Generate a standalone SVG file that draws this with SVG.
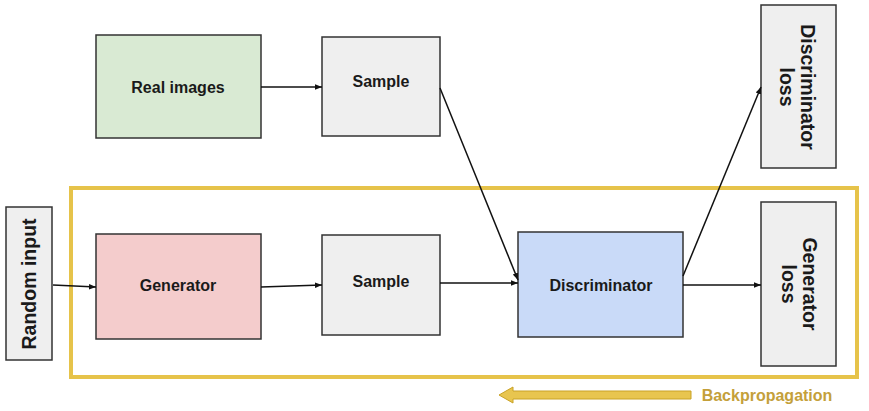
<svg xmlns="http://www.w3.org/2000/svg" width="869" height="411" viewBox="0 0 869 411">
<defs>
<style>
text{font-family:"Liberation Sans",Arial,sans-serif;font-weight:bold;fill:#1a1a1a;text-anchor:middle;dominant-baseline:central}
.box{stroke:#333;stroke-width:1.5}
.gray{fill:#efefef}
.big{font-size:19.5px}
.n{font-size:16px}
.c{stroke:#111;stroke-width:1.5;fill:none;marker-end:url(#ah)}
</style>
<marker id="ah" viewBox="0 0 10 10" refX="10" refY="5" markerWidth="7" markerHeight="7" markerUnits="userSpaceOnUse" orient="auto"><path d="M0,1 L10,5 L0,9 z" fill="#111"/></marker>
</defs>
<rect width="869" height="411" fill="#fff"/>
<g id="backprop-frame">
<rect x="71" y="188" width="786" height="189" fill="none" stroke="#e6c34a" stroke-width="4"/>
</g>
<g id="real-images"><rect class="box" x="96" y="35" width="165" height="103" fill="#d9ead3" stroke="#6a9a58"/><text class="n" x="178" y="87">Real images</text></g>
<g id="sample-top"><rect class="box gray" x="322" y="37" width="118" height="99"/><text class="n" x="381" y="81">Sample</text></g>
<g id="disc-loss"><rect class="box gray" x="761" y="5" width="75" height="163"/><text class="big" transform="translate(808,87) rotate(90)">Discriminator</text><text class="big" transform="translate(787,87) rotate(90)">loss</text></g>
<g id="random-input"><rect class="box gray" x="6" y="207" width="46" height="153"/><text class="big" transform="translate(29,284) rotate(-90)">Random input</text></g>
<g id="generator"><rect class="box" x="96" y="234" width="165" height="105" fill="#f4cccc" stroke="#a05252"/><text class="n" x="178" y="285">Generator</text></g>
<g id="sample-bottom"><rect class="box gray" x="322" y="235" width="118" height="100"/><text class="n" x="381" y="281">Sample</text></g>
<g id="discriminator"><rect class="box" x="518" y="232" width="165" height="105" fill="#c9daf8" stroke="#5b87c9"/><text class="n" x="601" y="285">Discriminator</text></g>
<g id="gen-loss"><rect class="box gray" x="761" y="202" width="75" height="164"/><text class="big" transform="translate(810,284) rotate(90)">Generator</text><text class="big" transform="translate(789,284) rotate(90)">loss</text></g>
<g id="connectors">
<line class="c" x1="261" y1="87" x2="322" y2="87"/>
<line class="c" x1="440" y1="88" x2="518" y2="280"/>
<line class="c" x1="53" y1="285" x2="96" y2="287"/>
<line class="c" x1="261" y1="287" x2="322" y2="285"/>
<line class="c" x1="440" y1="283" x2="518" y2="283"/>
<line class="c" x1="683" y1="276" x2="761" y2="87"/>
<line class="c" x1="683" y1="285" x2="761" y2="285"/>
</g>
<g id="backpropagation">
<path d="M691,391 L513,391 L513,387 L499,395 L513,403 L513,399 L691,399 z" fill="#e8c54f" stroke="#c9a227" stroke-width="1"/>
<text class="n" x="767" y="395" style="fill:#c4a03a">Backpropagation</text>
</g>
</svg>
